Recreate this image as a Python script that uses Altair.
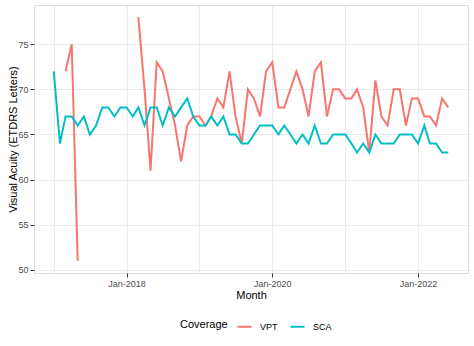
import altair as alt
import pandas as pd

# Monthly x categories: Jan 2017 .. Jun 2022
months = pd.date_range("2017-01-01", periods=66, freq="MS").strftime("%Y-%m-%d").tolist()

vpt = [None, None, 72, 75, 51, None, None, None, None, None,
       None, None, None, None, 78, 70, 61, 73, 72, 69,
       66, 62, 66, 67, 67, 66, 67, 69, 68, 72,
       67, 64, 70, 69, 67, 72, 73, 68, 68, 70,
       72, 70, 67, 72, 73, 67, 70, 70, 69, 69,
       70, 68, 63, 71, 67, 66, 70, 70, 66, 69,
       69, 67, 67, 66, 69, 68]

sca = [72, 64, 67, 67, 66, 67, 65, 66, 68, 68,
       67, 68, 68, 67, 68, 66, 68, 68, 66, 68,
       67, 68, 69, 67, 66, 66, 67, 66, 67, 65,
       65, 64, 64, 65, 66, 66, 66, 65, 66, 65,
       64, 65, 64, 66, 64, 64, 65, 65, 65, 64,
       63, 64, 63, 65, 64, 64, 64, 65, 65, 65,
       64, 66, 64, 64, 63, 63]

series_names = ["VPT", "SCA"]
series_colors = ["#F8766D", "#00BFC4"]
y_ticks = [50, 55, 60, 65, 70, 75]
x_tick_years = [2017, 2018, 2019, 2020, 2021, 2022]

rows = []
for name, vals in zip(series_names, [vpt, sca]):
    for m, v in zip(months, vals):
        rows.append({"Month": m, "VA": v, "Coverage": name})
df = pd.DataFrame(rows)

FONT = "Liberation Sans"

x_axis = alt.Axis(
    values=[alt.DateTime(year=y, month=1, date=1) for y in x_tick_years],
    labelExpr="year(datum.value) % 2 == 0 ? timeFormat(datum.value, '%b-%Y') : ''",
    tickOpacity={"condition": {"test": "year(datum.value) % 2 == 1", "value": 0}, "value": 1},
    grid=True, gridColor="#EBEBEB", gridWidth=1,
    domain=False, ticks=True, tickColor="#333333", tickSize=4, tickWidth=1,
    labelFontSize=9, labelColor="#4D4D4D", labelPadding=2, labelFont=FONT,
    labelFlush=False, labelOverlap=False,
    title="Month", titleFontSize=11, titleFontWeight="normal", titleColor="black",
    titleFont=FONT, titleY=25, titleBaseline="alphabetic",
)

y_axis = alt.Axis(
    values=y_ticks,
    grid=True, gridColor="#EBEBEB", gridWidth=1,
    domain=False, ticks=True, tickColor="#333333", tickSize=4, tickWidth=1,
    labelFontSize=9, labelColor="#4D4D4D", labelPadding=2, labelFont=FONT,
    labelFlush=False, labelOverlap=False,
    title="Visual Acuity (ETDRS Letters)", titleFontSize=11, titleFontWeight="normal",
    titleColor="black", titleFont=FONT, titleAngle=270,
    titleX=-18, titleY=134, titleBaseline="alphabetic",
)

legend = alt.Legend(
    orient="none", legendX=146, legendY=313, direction="horizontal",
    titleOrient="left", title="Coverage", titleFontSize=11, titleFontWeight="normal",
    titleColor="black", titleFont=FONT, titlePadding=8,
    labelFontSize=9, labelColor="black", labelFont=FONT, labelOffset=7,
    symbolType="stroke", symbolStrokeWidth=2, symbolSize=200, columnPadding=8,
)

chart = alt.Chart(df).mark_line(strokeWidth=2, invalid="break-paths-filter-domains").encode(
    x=alt.X("Month:T", axis=x_axis,
            scale=alt.Scale(domain=[alt.DateTime(year=2016, month=9, date=24),
                                    alt.DateTime(year=2022, month=9, date=8)])),
    y=alt.Y("VA:Q", axis=y_axis, scale=alt.Scale(domain=[49.65, 79.35], nice=False, zero=False)),
    color=alt.Color("Coverage:N", legend=legend,
                    scale=alt.Scale(domain=series_names, range=series_colors),
                    sort=series_names),
).properties(
    width=434, height=268,
    autosize=alt.AutoSizeParams(type="none"),
    padding={"left": 34, "top": 5, "right": 6, "bottom": 73},
).configure_view(
    stroke="#8A8A8A", strokeWidth=1.2
).configure(background="white")

chart.save("out.html", embed_options={"renderer": "svg", "actions": False})
